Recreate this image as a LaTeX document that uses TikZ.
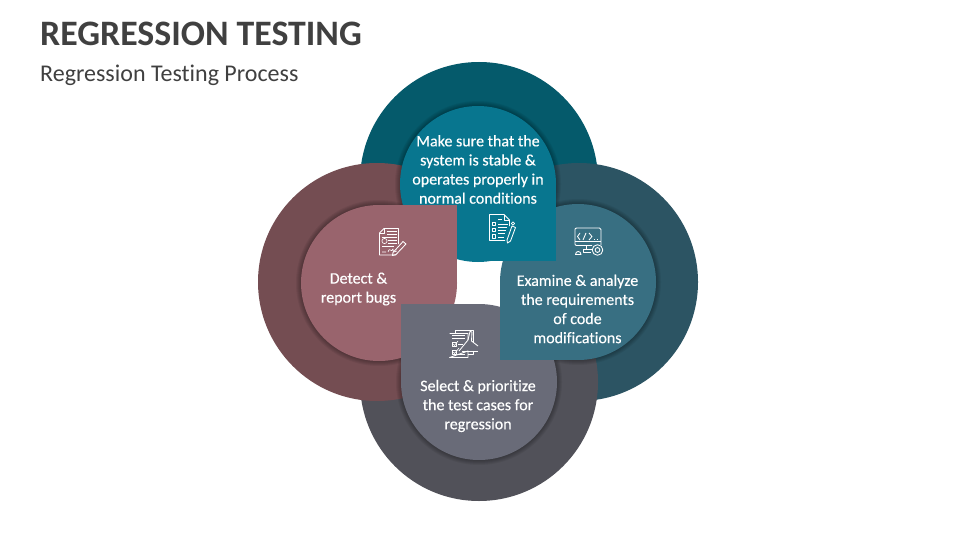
\documentclass[tikz,border=0pt]{standalone}
\usepackage{fontspec}
\setmainfont[Ligatures=NoCommon]{Carlito}
\definecolor{topO}{HTML}{055A6B}
\definecolor{topI}{HTML}{08768F}
\definecolor{rgtO}{HTML}{2C5463}
\definecolor{rgtI}{HTML}{386F82}
\definecolor{lftO}{HTML}{744D52}
\definecolor{lftI}{HTML}{99646D}
\definecolor{botO}{HTML}{515159}
\definecolor{botI}{HTML}{696B78}
\definecolor{ink}{HTML}{404040}
\tikzset{
  x=1pt,y=-1pt,
  lbl/.style={text=white,font=\fontsize{16}{19.1}\selectfont\addfontfeature{FakeBold=0.3},align=center,inner sep=0pt},
  ico/.style={draw=white,line width=0.85pt,fill=none,line join=round},
  icof/.style={draw=white,line width=0.6pt,fill=none,line join=round}
}
\newcommand{\softshadow}[2]{%
  \foreach \w in {1,2,...,6}{
    \fill[black,opacity=0.06] (#1,#2) circle[radius=77+\w];
  }}
\begin{document}
\begin{tikzpicture}
\useasboundingbox (0,0) rectangle (960,540);
\fill[white] (0,0) rectangle (960,540);
% outer discs
\fill[topO] (479,181) circle[radius=119];
\fill[rgtO] (579,282) circle[radius=119];
\fill[botO] (479,382) circle[radius=119];
\fill[lftO] (377,282) circle[radius=119];
% shadows
\softshadow{478}{184}
\softshadow{578}{282}
\softshadow{479}{382}
\softshadow{379}{283}
% centre
\fill[white] (450,250) rectangle (506,312);
% inner drops: right < top < left < bottom < right
\fill[rgtI] (578,282) circle[radius=78];
\fill[rgtI] (500,282) rectangle (578,360);
\fill[topI] (478,184) circle[radius=78];
\fill[topI] (478,184) rectangle (556,261);
\fill[lftI] (379,283) circle[radius=78];
\fill[lftI] (379,205) rectangle (457,283);
\fill[botI] (479,382) circle[radius=78];
\fill[botI] (401,304) rectangle (479,382);
\fill[rgtI] (500,282) rectangle (578,360);
% title
\node[anchor=west,text=ink,inner sep=0pt,font=\fontsize{35.8}{40}\selectfont\bfseries] (title) at (40,34) {REGRESSION TESTING};
\node[anchor=west,text=ink,inner sep=0pt,font=\fontsize{24}{28}\selectfont] (subtitle) at (40,75) {Regression Testing Process};
% labels
\node[lbl] (ltop) at (478,169.5) {Make sure that the\\system is stable \&\\operates properly in\\normal conditions};
\node[lbl] (lrgt) at (577.5,309) {Examine \& analyze\\the requirements\\of code\\modifications};
\node[lbl] (lbot) at (478,406) {Select \& prioritize\\the test cases for\\regression};
\node[lbl] (llft) at (358.5,289) {Detect \&\\report bugs};
% --- icon: checklist (top)
\draw[ico] (505,240.5) -- (489.5,240.5) -- (489.5,214.5) -- (504,214.5) -- (509.5,220) -- (509.5,226);
\draw[icof] (504,214.5) -- (504,220) -- (509.5,220);
\draw[icof] (492,222) rectangle (495.5,225.5) (492,228) rectangle (495.5,231.5) (492,234.5) rectangle (495.5,238);
\draw[icof] (498,219) -- (502,219) (498,224) -- (508,224) (498,227) -- (507,227) (498,230) -- (506,230) (498,233) -- (505,233) (498,237) -- (504,237);
\draw[ico] (507,240) -- (512,226) -- (515.5,227.5) -- (510.5,241) -- (507.5,243) -- cycle;
\draw[icof] (513,223.5) circle[radius=1.6];
% --- icon: report + pen (left)
\draw[ico] (398.5,244) -- (398.5,228.5) -- (384,228.5) -- (379.5,233) -- (379.5,255) -- (396,255);
\draw[icof] (384,228.5) -- (384,233) -- (379.5,233);
\draw[icof] (387,231.5) -- (396.5,231.5) (387,234) -- (396.5,234) (382,237) -- (396.5,237) (388,240) -- (396.5,240) (388,243) -- (396.5,243) (382,246) -- (394,246);
\draw[icof] (384.5,241) circle[radius=2.6];
\draw[icof] (382,252) -- (386,252) (388,252) .. controls (390,246) and (391,254) .. (393,249) .. controls (393,253) and (395,252) .. (397,251);
\draw[ico] (393,252.5) -- (403,241.5) -- (406,244) -- (396,254.5) -- (392.5,255.5) -- cycle;
% --- icon: monitor + gear (right)
\draw[ico] (592,245.5) -- (577,245.5) .. controls (575.5,245.5) and (575,245) .. (575,244) -- (575,229.5) .. controls (575,228.5) and (575.5,228) .. (577,228) -- (599.5,228) .. controls (600.5,228) and (601,228.5) .. (601,229.5) -- (601,245);
\draw[icof] (575,241.5) -- (601,241.5);
\draw[ico] (580,233) -- (577.5,236.5) -- (580,240) (583,240) -- (586,233) (589,233) -- (592,236.5) -- (589,240);
\draw[icof] (594,239) -- (594.7,239) (596.5,239) -- (597.2,239);
\draw[icof] (586,245.5) -- (586,250) (593,249) -- (583,249) -- (583,252) -- (591,252);
\draw[ico] (597.5,250) circle[radius=5.3];
\draw[ico] (597.5,250) circle[radius=2.4];
\draw[ico] (575.5,254.5) .. controls (575.5,250.5) and (581,250.5) .. (581,254.5) -- cycle;
% --- icon: clipboard + hand (bottom)
\draw[ico] (455,330.5) -- (473,330.5) -- (473,343);
\draw[ico] (449.5,333.5) -- (468,333.5) -- (468,340) (468,351) -- (468,357.5) -- (449.5,357.5) -- cycle;
\draw[icof] (455,330.5) -- (455,333.5) (473,352) -- (473,354.5) -- (468,354.5);
\draw[icof] (452,335.5) -- (465,335.5) (452,338.5) -- (465,338.5);
\draw[icof] (452,342.5) rectangle (456,346) (452,350.5) rectangle (456,354);
\draw[icof] (453,344) -- (454.5,345.5) -- (458,341) (453,352) -- (454.5,353.5) -- (459,348);
\draw[icof] (458,344.5) -- (463,344.5) (458,354) -- (465,354);
\draw[ico] (459,351) -- (468,340) -- (470,331.5) -- (472,332) -- (471.5,341) -- (478,346);
\draw[ico] (462,351) -- (478,351);
\end{tikzpicture}
\end{document}
